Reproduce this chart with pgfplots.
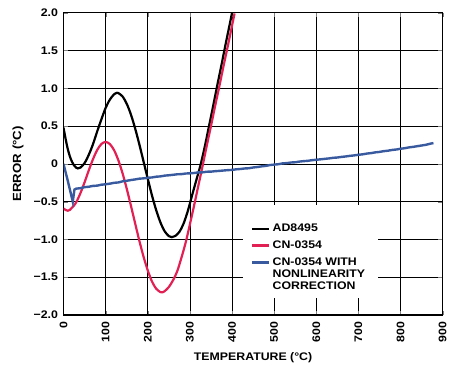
\documentclass[border=0pt]{standalone}
\usepackage{fontspec}
\setmainfont{Liberation Sans}[FakeStretch=1.12]
\usepackage{pgfplots}
\pgfplotsset{compat=1.18}
\definecolor{cnred}{RGB}{226,32,84}
\definecolor{cnblue}{RGB}{58,90,160}
\newcommand\lab{\fontsize{11}{11.7}\selectfont\bfseries}
\begin{document}
\begin{tikzpicture}
\begin{axis}[
  name=main,
  scale only axis, width=379.2pt, height=302.3pt,
  xmin=0, xmax=900, ymin=-2, ymax=2,
  xtick={0,100,200,300,400,500,600,700,800,900},
  xticklabels={0,100,200,300,400,500,600,700,800,900},
  ytick={-2,-1.5,-1,-0.5,0,0.5,1,1.5,2},
  yticklabels={−2.0,−1.5,−1.0,−0.5,0,0.5,1.0,1.5,2.0},
  xticklabel style={rotate=90, anchor=east, font=\lab},
  yticklabel style={font=\lab},
  xticklabel shift=3pt, yticklabel shift=2pt,
  grid=major,
  major grid style={draw=black, line width=0.7pt},
  axis line style={black, line width=1.2pt},
  xlabel={TEMPERATURE (°C)}, ylabel={ERROR (°C)},
  xlabel style={at={(axis description cs:0.5,-0.142)}, anchor=center, font=\lab},
  ylabel style={at={(axis description cs:-0.12,0.5)}, anchor=center,
    font=\fontsize{11.8}{12}\selectfont\bfseries},
  legend style={at={(axis cs:445,-0.77)}, anchor=north west, fill=none, draw=none,
    font=\lab, row sep=3.5pt, inner sep=0pt},
  legend cell align=left,
  clip=true,
]
\fill[white] (axis cs:426,-0.55) rectangle (axis cs:746,-1.77);
\addplot[black, line width=2.2pt, smooth] coordinates {
(0,0.48)(5,0.33)(10,0.20)(15,0.10)(20,0.03)(25,-0.02)(30,-0.05)(34,-0.06)
(40,-0.05)(50,0.01)(60,0.12)(70,0.26)(80,0.43)(90,0.59)(100,0.74)(110,0.85)(120,0.92)(127,0.94)
(130,0.937)(140,0.893)(150,0.796)(160,0.653)(170,0.469)(180,0.258)(190,0.031)(200,-0.198)
(210,-0.418)(220,-0.613)(230,-0.774)(240,-0.891)(250,-0.956)(257,-0.97)
(265,-0.955)(275,-0.90)(285,-0.79)(295,-0.625)(305,-0.42)(315,-0.22)(325,-0.02)
(335,0.22)(345,0.49)(355,0.76)(365,1.04)(375,1.31)(385,1.59)(395,1.86)(400,2.0)
};
\addlegendentry{AD8495}
\addplot[cnred, line width=2.2pt, smooth] coordinates {
(0,-0.59)(5,-0.61)(10,-0.62)(15,-0.61)(20,-0.58)(25,-0.55)(31,-0.50)(40,-0.39)(50,-0.244)
(60,-0.086)(70,0.062)(80,0.184)(90,0.263)(100,0.29)
(110,0.262)(120,0.182)(130,0.050)(140,-0.122)(150,-0.327)(160,-0.553)(170,-0.787)
(180,-1.017)(190,-1.229)(200,-1.410)(210,-1.557)(220,-1.652)(230,-1.697)(235,-1.70)
(240,-1.685)(250,-1.63)(260,-1.54)(270,-1.42)(280,-1.24)(290,-1.04)(300,-0.80)
(310,-0.55)(320,-0.29)(330,-0.03)(340,0.24)(350,0.50)(360,0.77)(370,1.03)(380,1.30)
(390,1.56)(400,1.83)(406,1.99)
};
\addlegendentry{CN-0354}
\addplot[cnblue, line width=2.4pt] coordinates {
(0,0.0)(10,-0.22)(22,-0.5)(26,-0.34)
(30,-0.328)(40,-0.322)(50,-0.308)(60,-0.303)(70,-0.292)(80,-0.288)(90,-0.276)(100,-0.270)
(110,-0.262)(120,-0.251)(130,-0.246)(140,-0.232)(150,-0.224)(160,-0.214)(170,-0.206)
(180,-0.196)(190,-0.192)(200,-0.184)(210,-0.180)(220,-0.170)(230,-0.166)(240,-0.156)
(250,-0.151)(260,-0.145)(270,-0.138)(280,-0.136)(290,-0.128)(300,-0.125)(310,-0.121)
(320,-0.113)(330,-0.112)(340,-0.104)(350,-0.103)(360,-0.097)(370,-0.093)(380,-0.088)
(390,-0.083)(400,-0.080)(410,-0.072)(420,-0.068)(430,-0.061)(440,-0.058)(450,-0.048)
(460,-0.042)(470,-0.033)(480,-0.027)(490,-0.016)(500,-0.010)(510,-0.005)(520,0.006)
(530,0.010)(540,0.018)(550,0.021)(560,0.030)(570,0.036)(580,0.040)(590,0.049)(600,0.054)
(610,0.060)(620,0.066)(630,0.072)(640,0.080)(650,0.084)(660,0.092)(670,0.098)(680,0.106)
(690,0.112)(700,0.120)(710,0.126)(720,0.136)(730,0.142)(740,0.152)(750,0.158)(760,0.168)
(770,0.174)(780,0.184)(790,0.190)(800,0.200)(810,0.207)(820,0.218)(830,0.225)(840,0.234)
(850,0.243)(860,0.252)(870,0.266)(878,0.275)
};
\addlegendentry{\begin{tabular}[t]{@{}l@{}}CN-0354 WITH\\NONLINEARITY\\CORRECTION\end{tabular}}
\end{axis}
\path (main.south west) ++(-63.5pt,-57pt) coordinate (bl);
\path (main.north east) ++(31.3pt,12.7pt) coordinate (tr);
\path (bl) rectangle (tr);
\end{tikzpicture}
\end{document}
